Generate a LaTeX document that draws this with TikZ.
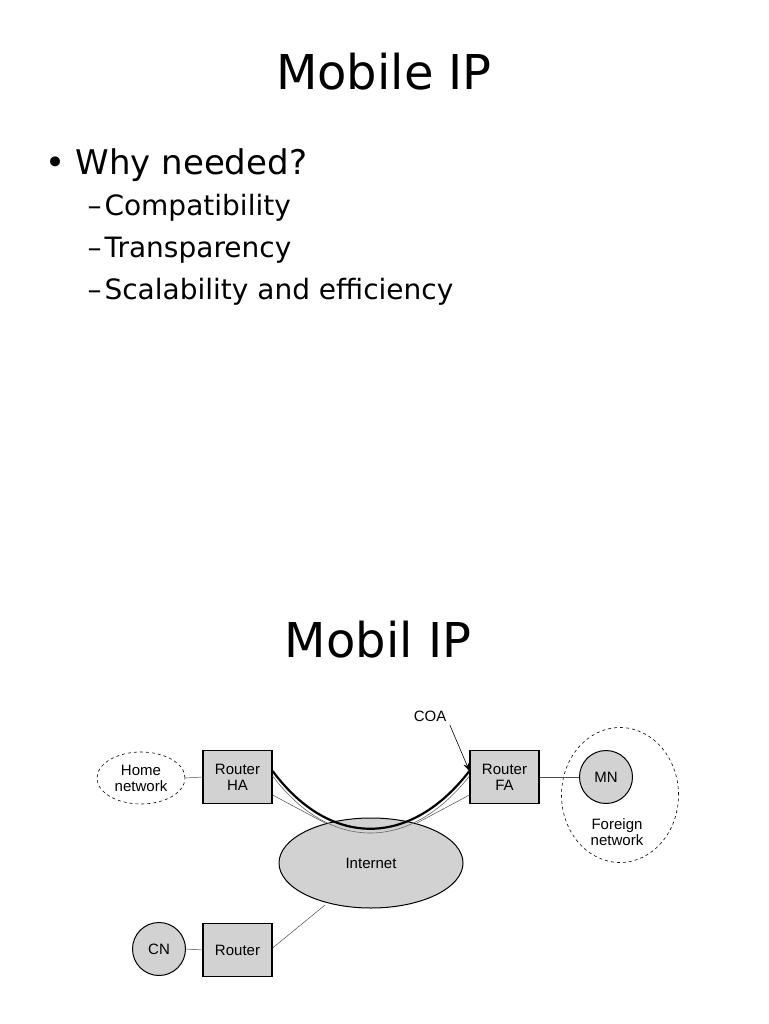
\documentclass[tikz,border=0pt]{standalone}
\usepackage{fontspec}
\setmainfont{DejaVu Sans}
\newfontfamily\diagfont{Liberation Sans}
\usetikzlibrary{shapes.geometric,arrows.meta,calc}
\begin{document}
\begin{tikzpicture}[x=1pt,y=-1pt,
  box/.style={draw,line width=1.2pt,fill=gray!35,minimum width=69pt,minimum height=53pt,inner sep=0pt,font=\diagfont\fontsize{15}{16}\selectfont,align=center},
  host/.style={circle,draw,line width=1pt,fill=gray!35,minimum size=53pt,inner sep=0pt,font=\diagfont\fontsize{15}{16}\selectfont},
  cloud/.style={ellipse,draw,dashed,line width=0.6pt,inner sep=0pt,font=\diagfont\fontsize{15}{16}\selectfont,align=center},
  link/.style={line width=0.5pt,draw=black!70},
  title/.style={font=\fontsize{48}{56}\selectfont,anchor=base},
  lvlone/.style={font=\fontsize{34}{40}\selectfont,anchor=base west},
  lvltwo/.style={font=\fontsize{28}{34}\selectfont,anchor=base west}]
\useasboundingbox[fill=white] (0,0) rectangle (768,1024);
\node[title] (t1) at (384,90) {Mobile IP};
\node[lvlone] (b0) at (42,175) {•};
\node[lvlone] (b1) at (72,175) {Why needed?};
\node[lvltwo] (c1) at (84,216) {–\kern3ptCompatibility};
\node[lvltwo] (c2) at (84,258) {–\kern3ptTransparency};
\node[lvltwo] (c3) at (84,299) {–\kern3ptScalability and efficiency};
\node[title] (t2) at (378,657) {Mobil IP};

\node[cloud,minimum width=88pt,minimum height=52pt] (home) at (141,778) {Home\\network};
\node[cloud,minimum width=117pt,minimum height=135pt,text depth=0pt] (foreign) at (620,795) {};
\node[font=\diagfont\fontsize{15}{16}\selectfont,align=center] (flab) at (617,832) {Foreign\\network};
\node[ellipse,draw,line width=1pt,fill=gray!35,minimum width=184pt,minimum height=90pt,font=\diagfont\fontsize{15}{16}\selectfont] (inet) at (371,863) {Internet};
\node[box] (ha) at (237.5,777) {Router\\HA};
\node[box] (fa) at (504.5,777) {Router\\FA};
\node[host] (mn) at (606,777) {MN};
\node[host] (cn) at (159,949) {CN};
\node[box] (r) at (237.5,950) {Router};
\node[font=\diagfont\fontsize{15}{16}\selectfont] (coa) at (430,716) {COA};

\draw[link] (home.east) -- (ha.west);
\draw[link] (fa.east) -- (mn.west);
\draw[link] (cn.east) -- (r.west);
\draw[link] (ha.east |- 0,795) -- (325,823);
\draw[link] (fa.west |- 0,795) -- (417,823);
\draw[link] (r.east |- 0,948) -- (325,905);
\draw[line width=0.6pt,draw=black!60] ($(ha.east)+(0,-1)$) .. controls (330,852) and (410,852) .. ($(fa.west)+(0,-1)$);
\draw[line width=2.2pt] ($(ha.east)+(0,-6)$) .. controls (330,848) and (410,848) .. ($(fa.west)+(0,-6)$);
\draw[-{Stealth[length=8pt]},line width=0.6pt] (coa.south east) -- ($(fa.west)+(0,-6)$);
\end{tikzpicture}
\end{document}
